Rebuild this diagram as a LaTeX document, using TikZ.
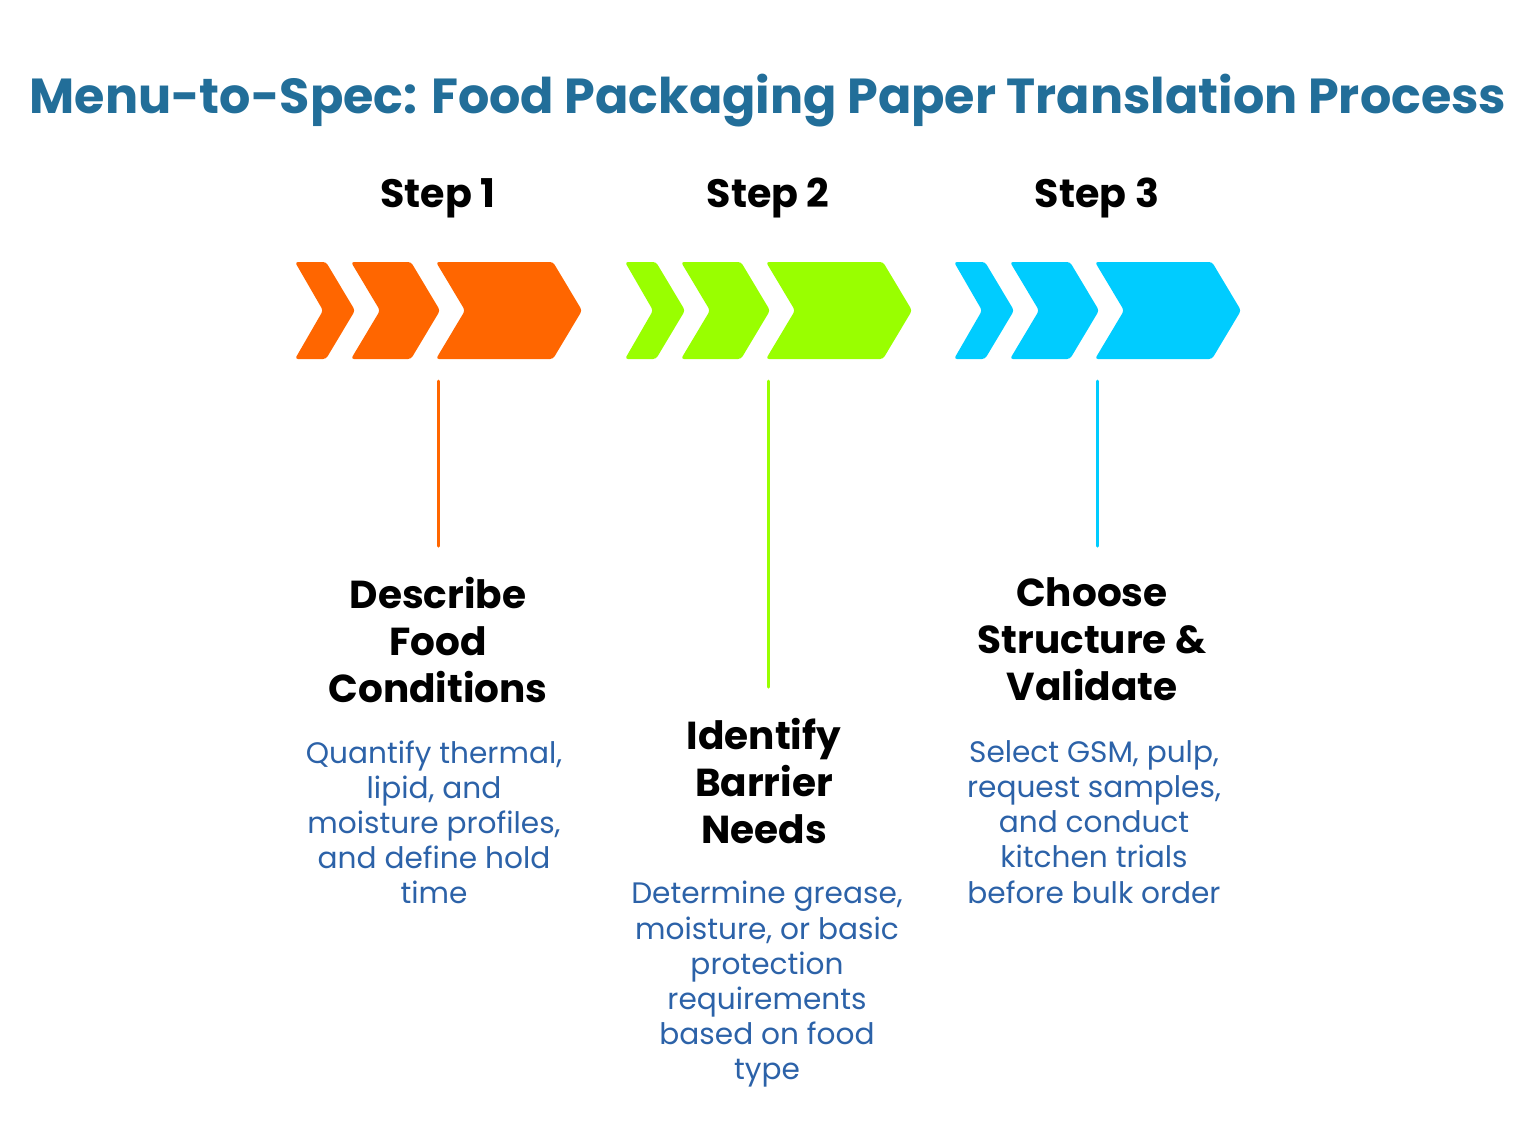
\documentclass[tikz,border=0pt]{standalone}
\usepackage{fontspec}
\setmainfont{Poppins}
\definecolor{titleblue}{HTML}{226E99}
\definecolor{orng}{HTML}{FF6600}
\definecolor{lgreen}{HTML}{99FF00}
\definecolor{cyanb}{HTML}{00CCFF}
\definecolor{bodyblue}{HTML}{2C62A8}
\begin{document}
\begin{tikzpicture}[x=0.5pt,y=-0.5pt,
  titletext/.style={font=\bfseries\fontsize{24.6}{30}\selectfont, text=titleblue, inner sep=0pt, anchor=base},
  steplabel/.style={font=\bfseries\fontsize{19.8}{22}\selectfont, inner sep=0pt, anchor=base},
  headtext/.style={font=\bfseries\fontsize{19.5}{23.5}\selectfont, align=center, inner sep=0pt, anchor=north},
  bodytext/.style={font=\fontsize{14.8}{17.6}\selectfont, text=bodyblue, align=center, inner sep=0pt, anchor=north},
  stem/.style={line width=1.5pt, line cap=round},
  chev/.style={rounded corners=1.5pt}]
\useasboundingbox (0,0) rectangle (1536,1130);

\node[titletext] (title) at (768,113) {Menu-to-Spec: Food Packaging Paper Translation Process};

\foreach \off/\col/\n in {0/orng/1, 330/lgreen/2, 659/cyanb/3}{
  \begin{scope}[xshift=\off*0.5pt]
    \fill[chev,\col] (295,262) -- (326,262) -- (355,310.5) -- (326,359) -- (295,359) -- (323,310.5) -- cycle;
    \fill[chev,\col] (351,262) -- (411,262) -- (440,310.5) -- (411,359) -- (351,359) -- (380,310.5) -- cycle;
    \fill[chev,\col] (436,262) -- (553,262) -- (582,310.5) -- (553,359) -- (436,359) -- (465,310.5) -- cycle;
    \node[steplabel] (step\n) at (438,207) {Step \n};
  \end{scope}
}

\coordinate (s1top) at (438,381);
\coordinate (s1bot) at (438,546);
\coordinate (s2top) at (768,381);
\coordinate (s2bot) at (768,687);
\coordinate (s3top) at (1097,381);
\coordinate (s3bot) at (1097,546);
\draw[stem,orng] (s1top) -- (s1bot);
\draw[stem,lgreen] (s2top) -- (s2bot);
\draw[stem,cyanb] (s3top) -- (s3bot);

\node[headtext] (h1) at (438,577) {Describe\\Food\\Conditions};
\node[bodytext] (b1) at (434,740) {Quantify thermal,\\lipid, and\\moisture profiles,\\and define hold\\time};

\node[headtext] (h2) at (764,718) {Identify\\Barrier\\Needs};
\node[bodytext] (b2) at (767,881) {Determine grease,\\moisture, or basic\\protection\\requirements\\based on food\\type};

\node[headtext] (h3) at (1092,577) {Choose\\Structure \&\\Validate};
\node[bodytext] (b3) at (1094,740) {Select GSM, pulp,\\request samples,\\and conduct\\kitchen trials\\before bulk order};
\end{tikzpicture}
\end{document}
